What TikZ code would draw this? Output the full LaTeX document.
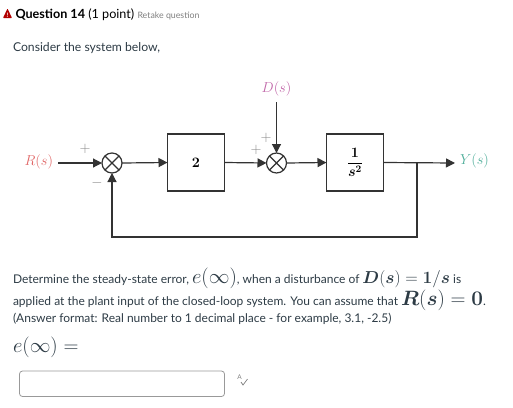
\documentclass[tikz,border=0pt]{standalone}
\usepackage{amsmath}
\usepackage[no-math]{fontspec}
\setmainfont{Lato}
\usetikzlibrary{arrows.meta}
\definecolor{txt}{HTML}{2D3B45}
\definecolor{rcol}{HTML}{E06666}
\definecolor{dcol}{HTML}{C066A8}
\definecolor{ycol}{HTML}{4FAE9A}
\definecolor{ln}{HTML}{333333}
\definecolor{sgn}{HTML}{888888}
\begin{document}
\begin{tikzpicture}[x=1pt,y=-1pt,
  every node/.style={inner sep=0pt,outer sep=0pt},
  blk/.style={draw=ln,line width=1.2pt,minimum width=57pt,minimum height=57pt,font=\fontsize{14}{14}\selectfont},
  sumj/.style={circle,draw=ln,line width=1.2pt,minimum size=20pt,
    path picture={\draw[ln,line width=1.2pt] (path picture bounding box.north west) -- (path picture bounding box.south east)
      (path picture bounding box.north east) -- (path picture bounding box.south west);}},
  arr/.style={draw=ln,line width=1.2pt,-{Triangle[length=9pt,width=9pt]}},
  sgnl/.style={text=sgn,font=\fontsize{14}{14}\selectfont},
  lbl/.style={font=\fontsize{15.5}{15}\selectfont},
  body/.style={anchor=base west,text=txt,font=\fontsize{12}{13}\selectfont}]
\useasboundingbox (0,0) rectangle (513,407);
% header
\fill[red!70!black,rounded corners=0.6pt] (3,18) -- (7.5,8.5) -- (12,18) -- cycle;
\node[text=white,font=\bfseries\fontsize{6}{6}\selectfont] (excl) at (7.5,15.2) {!};
\node[anchor=base west,text=black,font=\fontsize{12.6}{14}\selectfont] (title) at (15.5,18.5)
  {\textbf{Question 14} (1 point) {\fontsize{8.8}{9}\selectfont\color{gray}Retake question}};
\node[body,font=\fontsize{12.2}{13}\selectfont] (consider) at (13,51.5) {Consider the system below,};
% diagram
\node[text=rcol,lbl,anchor=east] (rs) at (53,162) {$R(s)$};
\node[sumj] (s1) at (112,163) {};
\node[blk] (b1) at (196,162.5) {$\mathbf{2}$};
\node[sumj] (s2) at (276.5,163) {};
\node[text=dcol,lbl] (ds) at (276.5,89) {$D(s)$};
\node[blk] (b2) at (355,162.5) {$\dfrac{\mathbf{1}}{\boldsymbol{s}^{\mathbf{2}}}$};
\node[text=ycol,lbl,anchor=west] (ys) at (460,161) {$Y(s)$};
\coordinate (rstart) at (58,163);
\coordinate (dstart) at (276.5,102);
\coordinate (yend) at (455,163);
\coordinate (br) at (417,163);
\coordinate (bl) at (417,237);
\draw[arr] (rstart) -- (s1.west);
\draw[arr] (s1.east) -- (b1.west);
\draw[arr] (b1.east) -- (s2.west);
\draw[arr] (dstart) -- (s2.north);
\draw[arr] (s2.east) -- (b2.west);
\draw[arr] (b2.east) -- (yend);
\draw[arr] (br) -- (bl) -| (s1.south);
\node[sgnl] (p1) at (85,149) {$+$};
\node[sgnl] (m1) at (97,183) {$-$};
\node[sgnl] (p2) at (256,150) {$+$};
\node[sgnl] (p3) at (266,138) {$+$};
% question text
\node[body] (l1) at (13,283) {Determine the steady-state error, {\fontsize{20}{20}\selectfont$e(\infty)$}, when a disturbance of {\fontsize{17}{18}\selectfont$\boldsymbol{D}(\boldsymbol{s})=\mathbf{1}/\boldsymbol{s}$} is};
\node[body] (l2) at (13,305) {applied at the plant input of the closed-loop system. You can assume that {\fontsize{20}{20}\selectfont$\boldsymbol{R}(\boldsymbol{s})=\mathbf{0}$}.};
\node[body] (l3) at (13,322) {(Answer format: Real number to 1 decimal place - for example, 3.1, -2.5)};
\node[anchor=base west,text=txt,font=\fontsize{20.5}{20}\selectfont] (einf) at (13,352) {$e(\infty)=$};
\draw[draw=gray!80,line width=0.8pt,rounded corners=3pt] (19.5,371) rectangle (224.5,396.5);
\node[text=gray,font=\fontsize{6.5}{7}\selectfont] (spA) at (239.5,377.5) {A};
\draw[gray,line width=0.7pt] (241,382) -- (243,385) -- (247.5,379);
\end{tikzpicture}
\end{document}
